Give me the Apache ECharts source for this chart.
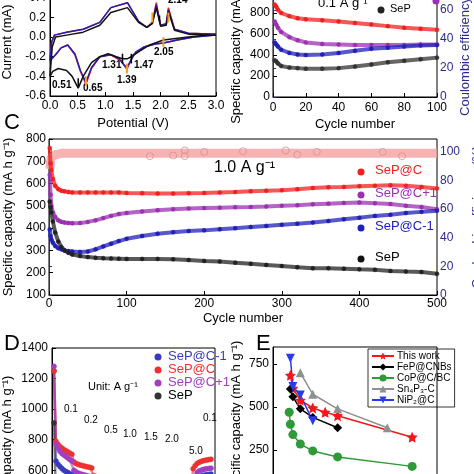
<!DOCTYPE html>
<html><head><meta charset="utf-8">
<script src="https://cdn.jsdelivr.net/npm/echarts@6/dist/echarts.min.js"></script>
<style>html,body{margin:0;background:#fff}#c{width:474px;height:474px}</style>
</head><body><div id="c"></div>
<script>
// ---- panel A: CV curves (potential V, current mA)
const cvRedCath = [[3.0,0.02],[2.6,0.0],[2.3,-0.03],[2.05,-0.06],[1.9,-0.07],[1.7,-0.1],[1.5,-0.18],[1.39,-0.33],[1.3,-0.25],[1.1,-0.18],[0.9,-0.2],[0.75,-0.32],[0.65,-0.48],[0.55,-0.35],[0.45,-0.18],[0.32,-0.08],[0.2,-0.11],[0.1,-0.18],[0.0,-0.24]]
const cvBlueCath = [[3.0,0.02],[2.6,0.0],[2.3,-0.03],[2.05,-0.06],[1.9,-0.07],[1.7,-0.1],[1.55,-0.15],[1.42,-0.28],[1.36,-0.3],[1.25,-0.22],[1.1,-0.18],[0.9,-0.2],[0.75,-0.31],[0.65,-0.46],[0.55,-0.34],[0.45,-0.17],[0.32,-0.08],[0.2,-0.11],[0.1,-0.18],[0.0,-0.24]]
const cvBlackCath = [[3.0,0.03],[2.5,0.0],[2.05,-0.03],[1.8,-0.08],[1.6,-0.15],[1.47,-0.2],[1.4,-0.22],[1.31,-0.22],[1.2,-0.2],[1.05,-0.17],[0.9,-0.2],[0.75,-0.26],[0.6,-0.4],[0.51,-0.52],[0.4,-0.4],[0.3,-0.34],[0.15,-0.32],[0.05,-0.35],[0.0,-0.4]]
const cvRedAnod = [[0.0,-0.24],[0.03,-0.05],[0.08,0.02],[0.3,0.05],[0.6,0.08],[0.9,0.15],[1.1,0.3],[1.4,0.35],[1.6,0.16],[1.75,0.1],[1.85,0.15],[1.92,0.35],[2.0,0.12],[2.1,0.14],[2.14,0.3],[2.25,0.08],[2.5,0.04],[3.0,0.03]]
const cvBlueAnod = [[0.0,-0.24],[0.03,-0.05],[0.08,0.02],[0.3,0.05],[0.6,0.08],[0.9,0.15],[1.1,0.3],[1.4,0.35],[1.6,0.16],[1.75,0.1],[1.85,0.14],[1.92,0.33],[2.0,0.12],[2.1,0.13],[2.14,0.28],[2.25,0.08],[2.5,0.04],[3.0,0.03]]
const cvBlackAnod = [[0.0,-0.4],[0.04,-0.1],[0.1,0.0],[0.3,0.02],[0.6,0.05],[0.9,0.12],[1.1,0.25],[1.4,0.3],[1.6,0.15],[1.75,0.1],[1.85,0.14],[1.92,0.3],[2.0,0.11],[2.1,0.12],[2.14,0.26],[2.25,0.07],[2.5,0.03],[3.0,0.02]]
const orangeTicks = [[0.65,-0.5,-0.4],[1.39,-0.37,-0.27],[2.05,-0.1,0.0],[1.85,0.15,0.25],[2.14,0.15,0.25]]
const blackTicks = [[0.51,-0.5,-0.42],[1.31,-0.27,-0.17],[1.47,-0.27,-0.17],[1.98,0.16,0.22]]

// ---- panel B: 0.1 A/g cycling
const bCycles = [1,2,3,5,10,15,20,30,40,50,60,70,80,90,100]
const bSePC = [880,860,830,800,770,750,740,730,720,705,690,675,660,650,640]
const bSePCp1 = [720,690,660,620,570,540,520,505,500,495,495,495,495,500,500]
const bSePCm1 = [520,500,480,450,420,405,400,405,420,440,460,470,480,490,495]
const bSeP = [350,340,320,295,280,275,270,270,275,290,310,330,345,360,375]

// ---- panel C: 1.0 A/g cycling
const cCycles = [1,2,3,5,8,12,16,20,25,30,40,50,60,70,80,90,100,120,140,160,180,200,220,240,260,280,300,320,340,360,380,400,420,440,460,480,500]
const cSePC = [760,690,660,620,590,575,568,565,562,560,560,560,560,560,560,560,558,557,555,555,557,558,560,562,565,568,570,575,580,583,585,588,590,592,590,585,578]
const cSePCp1 = [640,550,500,470,450,435,428,425,423,422,423,428,435,445,455,463,468,475,480,485,488,490,492,494,495,497,500,503,507,510,513,515,512,508,500,495,485]
const cSePCm1 = [395,365,350,335,320,310,305,300,297,295,293,295,305,318,330,342,352,365,375,382,387,390,395,400,405,410,415,420,425,432,440,447,455,460,468,473,478]
const cSeP = [520,495,470,430,380,340,315,300,290,282,275,270,267,265,264,263,262,262,262,260,257,253,250,245,240,235,230,225,220,220,218,215,213,208,205,203,195]
const cCE = [88,93,96,97,98,98.5,99,99,99,99,99,99,99,99,99,99,99,99,99,99,99,99,99,99,99,99,99,99,99,99,99,99,99,99,99,99,99]
const cCEScatter = [[130,97],[160,97.5],[175,97],[175,101],[200,100],[250,100.5],[305,101],[320,98],[345,100],[430,100],[455,97]]

// ---- panel D: rate capability, 10 cycles per rate
const rateLabels = ['0.1','0.2','0.5','1.0','1.5','2.0','5.0','0.1']
const dSePCm1 = [1250,660,640,625,612,600,592,585,578,572, 515,508,503,500,497,494,491,489,487,485, 430,426,423,420,418,416,414,412,410,408, 380,377,375,373,371,369,367,365,363,361, 345,342,340,338,336,334,332,330,328,326, 240,300,298,296,294,292,290,288,286,284, 210,205,202,200,198,197,196,195,194,193, 380,530,548,556,562,566,569,571,573,575]
const dSePC = [1250,790,770,755,745,735,728,720,712,705, 655,645,640,635,632,628,625,622,620,615, 565,560,557,555,552,550,548,546,544,540, 505,500,498,496,494,492,490,488,486,484, 470,468,466,464,462,460,458,456,455,453, 452,450,449,448,447,446,445,444,443,442, 345,340,338,336,334,333,332,331,330,330, 610,630,645,652,658,662,665,668,670,672]
const dSePCp1 = [1280,770,745,725,710,700,690,680,670,660, 600,590,583,578,574,570,566,563,560,555, 505,500,496,493,490,487,485,483,480,478, 445,442,440,438,436,434,432,430,428,426, 415,412,410,408,406,404,402,400,398,396, 390,387,385,383,381,379,377,375,373,371, 290,282,278,275,272,270,268,266,265,264, 450,560,585,595,600,605,608,610,612,614]
const dSeP = [910,410,395,385,375,365,358,350,345,340, 290,280,275,270,268,265,262,260,258,255, 225,222,220,218,216,214,212,210,209,208, 195,193,191,190,189,188,187,186,185,184, 175,173,172,171,170,169,168,167,166,165, 160,158,157,156,155,154,153,152,151,150, 120,118,116,115,114,113,112,111,110,110, 300,320,328,332,335,337,339,340,341,342]

// ---- panel E: comparison (current density A/g, capacity)
const eThisWork = [[0.1,685],[0.2,610],[0.5,540],[1,495],[1.5,470],[2,450],[5,325]]
const eFeP = [[0.1,605],[0.2,560],[0.5,490],[1,440],[2,380]]
const eCoP = [[0.05,470],[0.1,400],[0.2,340],[0.5,285],[1,245],[2,210],[5,155]]
const eSn4P3 = [[0.5,700],[1,575],[2,490],[4,380]]
const eNiP2 = [[0.1,785],[0.2,620],[0.5,570],[1,420]]

const FONT = 'Liberation Sans'
const NAVY = '#2b2b8f'
const RED = '#f02020', PURPLE = '#9b30b0', BLUE = '#2020b8', BLACK = '#111'

const chart = echarts.init(document.getElementById('c'))
const zip = (xs, ys) => xs.map((x, i) => [x, ys[i]])
const idx = ys => ys.map((y, i) => [i + 1, y])
const plain = v => String(v)

function axisBase(extra) {
  return Object.assign({
    axisLine: { show: true, onZero: false, lineStyle: { color: '#000', width: 1 } },
    axisTick: { show: true, inside: true, length: 4, lineStyle: { color: '#000' } },
    axisLabel: { color: '#000', fontFamily: FONT, fontSize: 12, margin: 5, formatter: plain },
    splitLine: { show: false },
    nameTextStyle: { color: '#000', fontFamily: FONT, fontSize: 13 },
    nameLocation: 'middle'
  }, extra)
}
const lab = extra => Object.assign({ color: '#000', fontFamily: FONT, fontSize: 12, margin: 4, formatter: plain }, extra)

const series = []
function line(name, data, color, xi, yi, extra) {
  series.push(Object.assign({ name, type: 'line', data, xAxisIndex: xi, yAxisIndex: yi, showSymbol: false,
    lineStyle: { color, width: 1.5 }, itemStyle: { color }, z: 3, silent: true }, extra || {}))
}
function dots(name, data, color, xi, yi, extra) {
  series.push(Object.assign({ name, type: 'line', data, xAxisIndex: xi, yAxisIndex: yi, symbol: 'circle', symbolSize: 4,
    lineStyle: { color, width: 4, opacity: 0.75 }, itemStyle: { color, borderColor: color, borderWidth: 0.5 }, silent: true }, extra || {}))
}

// A
line('a-red-c', cvRedCath, RED, 0, 0); line('a-blue-c', cvBlueCath, BLUE, 0, 0); line('a-black-c', cvBlackCath, BLACK, 0, 0)
line('a-red-a', cvRedAnod, RED, 0, 0); line('a-blue-a', cvBlueAnod, BLUE, 0, 0); line('a-black-a', cvBlackAnod, BLACK, 0, 0)
orangeTicks.forEach((t, i) => line('ot' + i, [[t[0], t[1]], [t[0], t[2]]], '#f0a020', 0, 0, { lineStyle: { color: '#f0a020', width: 2 }, z: 5 }))
blackTicks.forEach((t, i) => line('bt' + i, [[t[0], t[1]], [t[0], t[2]]], '#000', 0, 0, { lineStyle: { color: '#000', width: 1.5 }, z: 5 }))
// B
dots('SeP@C', zip(bCycles, bSePC), RED, 1, 1)
dots('SeP@C+1', zip(bCycles, bSePCp1), PURPLE, 1, 1)
dots('SeP@C-1', zip(bCycles, bSePCm1), BLUE, 1, 1)
dots('SeP', zip(bCycles, bSeP), '#333', 1, 1)
// C
line('CE', zip(cCycles, cCE), '#f08080', 2, 3, { lineStyle: { color: '#f4a0a0', width: 9, opacity: 0.8 }, z: 1 })
series.push({ type: 'scatter', data: cCEScatter, xAxisIndex: 2, yAxisIndex: 3, symbolSize: 7, itemStyle: { color: 'transparent', borderColor: '#d89090', borderWidth: 1 }, silent: true })
dots('SeP@C', zip(cCycles, cSePC), RED, 2, 2)
dots('SeP@C+1', zip(cCycles, cSePCp1), PURPLE, 2, 2)
dots('SeP@C-1', zip(cCycles, cSePCm1), BLUE, 2, 2)
dots('SeP', zip(cCycles, cSeP), '#222', 2, 2)
// D
const dSym = { symbolSize: 5, lineStyle: { width: 2.5, opacity: 0.6 } }
dots('SeP@C-1', idx(dSePCm1), '#3a3ac0', 4, 5, dSym)
dots('SeP@C', idx(dSePC), '#f03030', 4, 5, dSym)
dots('SeP@C+1', idx(dSePCp1), '#a040c0', 4, 5, dSym)
dots('SeP', idx(dSeP), '#333', 4, 5, dSym)
// E
const eS = (name, data, color, symbol, size) => series.push({ name, type: 'line', data, xAxisIndex: 5, yAxisIndex: 6,
  symbol, symbolSize: size, lineStyle: { color, width: 1.5 }, itemStyle: { color }, silent: true })
eS('This work', eThisWork, '#f01818', 'path://M0,-10L2.9,-4L9.5,-3.1L4.7,1.5L5.9,8.1L0,5L-5.9,8.1L-4.7,1.5L-9.5,-3.1L-2.9,-4Z', 11)
eS('FeP@CNBs', eFeP, '#000', 'diamond', 9)
eS('CoP@C/BC', eCoP, '#2f9a3a', 'circle', 9)
eS('Sn\u2084P\u2083-C', eSn4P3, '#909090', 'triangle', 9)
eS('NiP\u2082@C', eNiP2, '#2a3af0', 'path://M-10,-8L10,-8L0,10Z', 9)

const txt = (x, y, t, o) => ({ type: 'text', left: x, top: y, style: Object.assign({ text: t, fontFamily: FONT, fontSize: 12, fill: '#000' }, o || {}) })
const dot = (x, y, c) => ({ type: 'circle', shape: { cx: x, cy: y, r: 3.5 }, style: { fill: c } })
const g = o => Object.assign({ show: true, borderColor: '#000', backgroundColor: 'transparent', containLabel: false, outerBoundsMode: 'none' }, o)

chart.setOption({
  animation: false,
  grid: [
    g({ left: 50, top: -12, width: 166, height: 108 }),
    g({ left: 273, top: -8, width: 164, height: 105 }),
    g({ left: 49, top: 139, width: 388, height: 156 }),
    g({ left: 52, top: 348, width: 163, height: 214 }),
    g({ left: 273, top: 347, width: 164, height: 146 })
  ],
  xAxis: [
    axisBase({ gridIndex: 0, type: 'value', min: 0, max: 3, interval: 0.5, name: 'Potential (V)', nameGap: 21, axisLabel: lab({ formatter: v => v.toFixed(1) }) }),
    axisBase({ gridIndex: 1, type: 'value', min: 0, max: 100, interval: 20, name: 'Cycle number', nameGap: 21 }),
    axisBase({ gridIndex: 2, type: 'value', min: 0, max: 500, interval: 100, name: 'Cycle number', nameGap: 17, axisLabel: lab({ margin: 3 }) }),
    axisBase({ gridIndex: 2, type: 'value', min: 0, max: 500, show: false }),
    axisBase({ gridIndex: 3, type: 'value', min: 0, max: 82, interval: 20, axisLabel: { show: false } }),
    axisBase({ gridIndex: 4, type: 'value', min: -0.6, max: 6, axisLabel: { show: false }, axisTick: { show: false } })
  ],
  yAxis: [
    axisBase({ gridIndex: 0, type: 'value', min: -0.6, max: 0.5, interval: 0.2, name: 'Current (mA)', nameGap: 36, axisLabel: lab({ formatter: v => v.toFixed(1), showMaxLabel: false }) }),
    axisBase({ gridIndex: 1, type: 'value', min: 0, max: 1000, interval: 200, name: 'Specific capacity (mA h g\u207B\u00B9)', nameGap: 30, axisLabel: lab({ showMaxLabel: false, margin: 3 }) }),
    axisBase({ gridIndex: 2, type: 'value', min: 100, max: 800, interval: 100, name: 'Specific capacity (mA h g\u207B\u00B9)', nameGap: 30, axisLabel: lab({ margin: 3 }) }),
    axisBase({ gridIndex: 2, type: 'value', position: 'right', min: 0, max: 109, interval: 20, name: 'Coulombic efficiency (%)', nameGap: 22,
      nameTextStyle: { color: NAVY, fontFamily: FONT, fontSize: 13 }, axisLine: { show: true, lineStyle: { color: NAVY } },
      axisTick: { show: true, inside: false, length: 3, lineStyle: { color: NAVY } }, axisLabel: lab({ color: NAVY, showMaxLabel: false, margin: 3 }) }),
    axisBase({ gridIndex: 1, type: 'value', position: 'right', min: 0, max: 72.4, interval: 20, name: 'Coulombic efficiency (%)', nameGap: 22,
      nameTextStyle: { color: NAVY, fontFamily: FONT, fontSize: 13 }, axisLine: { show: true, lineStyle: { color: NAVY } },
      axisTick: { show: true, inside: false, length: 3, lineStyle: { color: NAVY } }, axisLabel: lab({ color: NAVY, showMaxLabel: false, margin: 3 }) }),
    axisBase({ gridIndex: 3, type: 'value', min: 0, max: 1400, interval: 200, name: 'Specific capacity (mA h g\u207B\u00B9)', nameGap: 38, axisLabel: lab({}) }),
    axisBase({ gridIndex: 4, type: 'value', min: 0, max: 850, interval: 250, name: 'Specific capacity (mA h g\u207B\u00B9)', nameGap: 30, axisLabel: lab({ showMaxLabel: false }) })
  ],
  legend: {
    data: ['This work', 'FeP@CNBs', 'CoP@C/BC', 'Sn\u2084P\u2083-C', 'NiP\u2082@C'],
    orient: 'vertical', left: 368, top: 349, itemGap: 1, itemWidth: 22, itemHeight: 9,
    textStyle: { fontFamily: FONT, fontSize: 10, color: '#000', padding: [0, 0, 0, -2] },
    borderColor: '#000', borderWidth: 0.8, padding: [2, 3, 2, 3], selectedMode: false
  },
  series,
  graphic: [
    // panel A peak labels
    txt(52, 80, '0.51', { fontSize: 10, fontWeight: 'bold' }), txt(83, 83, '0.65', { fontSize: 10, fontWeight: 'bold' }),
    txt(102, 60, '1.31', { fontSize: 10, fontWeight: 'bold' }), txt(134, 60, '1.47', { fontSize: 10, fontWeight: 'bold' }),
    txt(117, 75, '1.39', { fontSize: 10, fontWeight: 'bold' }), txt(154, 47, '2.05', { fontSize: 10, fontWeight: 'bold' }),
    txt(168, -5, '2.14', { fontSize: 10, fontWeight: 'bold' }),
    // panel B
    txt(318, -3, '0.1 A g\u207B\u00B9', { fontSize: 13 }), dot(381, 10, '#222'), txt(390, 3, 'SeP', { fontSize: 11 }), dot(436, 1, PURPLE),
    // panel C
    txt(4, 112, 'C', { fontSize: 22 }), txt(214, 160, '1.0 A g\u207B\u00B9', { fontSize: 16 }),
    dot(361, 172, RED), txt(375, 164, 'SeP@C', { fontSize: 13, fill: RED }),
    dot(361, 195, PURPLE), txt(375, 187, 'SeP@C+1', { fontSize: 13, fill: PURPLE }),
    dot(361, 228, BLUE), txt(375, 220, 'SeP@C-1', { fontSize: 13, fill: BLUE }),
    dot(361, 259, BLACK), txt(375, 251, 'SeP', { fontSize: 13 }),
    // panel D
    txt(4, 333, 'D', { fontSize: 22 }), txt(88, 381, 'Unit: A g\u207B\u00B9', { fontSize: 11 }),
    dot(158, 357, '#3a3ac0'), txt(168, 350, 'SeP@C-1', { fontSize: 13, fill: '#3a3ac0' }),
    dot(158, 370, '#f03030'), txt(168, 363, 'SeP@C', { fontSize: 13, fill: '#f03030' }),
    dot(158, 383, '#a040c0'), txt(168, 376, 'SeP@C+1', { fontSize: 13, fill: '#a040c0' }),
    dot(158, 396, '#333'), txt(168, 389, 'SeP', { fontSize: 13 }),
    ...[[64, 404], [84, 415], [104, 425], [123, 429], [144, 432], [165, 434], [189, 446], [203, 413]]
      .map((p, i) => txt(p[0], p[1], rateLabels[i], { fontSize: 10 })),
    // panel E
    txt(256, 333, 'E', { fontSize: 22 })
  ]
})
</script></body></html>
